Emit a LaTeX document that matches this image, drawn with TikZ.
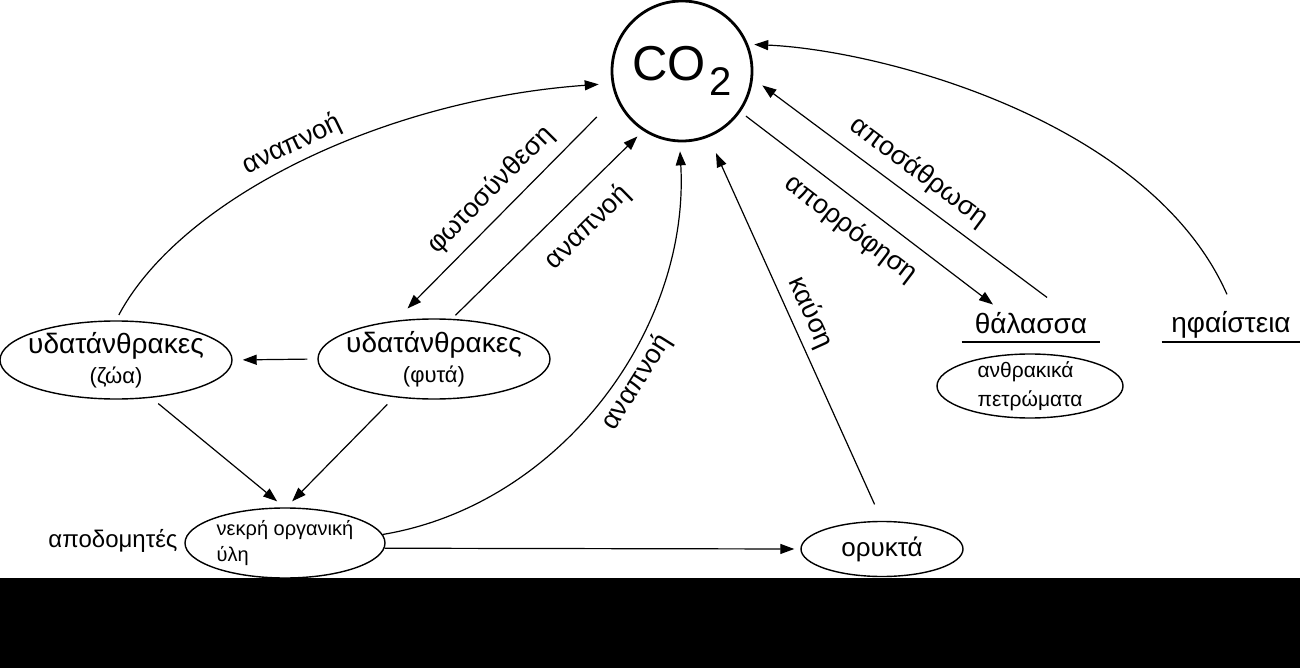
\documentclass[tikz,border=0pt]{standalone}
\usepackage{fontspec}
\setmainfont{Liberation Sans}
\usetikzlibrary{arrows.meta,shapes.geometric}

\tikzset{
  pool/.style={draw, ellipse, line width=0.7pt, inner sep=-6pt},
  flow/.style={-{Triangle[length=7pt,width=5pt]}, line width=0.6pt},
  tag/.style={font=\fontsize{13.5}{13.5}\selectfont, sloped},
  store/.style={font=\fontsize{14}{14}\selectfont, minimum width=69pt, inner xsep=0pt, inner ysep=3.5pt, anchor=base},
}

\begin{document}
\begin{tikzpicture}[x=0.5pt, y=-0.5pt]
    \useasboundingbox (0,0) rectangle (1300,668);
    \fill[black] (0,578) rectangle (1300,668);

    % Carbon dioxide
    \node[draw, circle, line width=1.4pt, minimum size=70pt, inner sep=0pt] (co2) at (682,71)
        {\fontsize{24.5}{24.5}\selectfont CO\kern2pt\raisebox{-7.5pt}{\fontsize{20}{20}\selectfont 2}};

    % Carbohydrates of animals and plants
    \node[pool, minimum width=116pt, minimum height=39pt, align=center, font=\fontsize{14}{15}\selectfont] (animals) at (116,360)
        {υδατάνθρακες\\{\fontsize{11}{15}\selectfont (ζώα)}};
    \node[pool, minimum width=116pt, minimum height=40pt, align=center, font=\fontsize{14}{15}\selectfont] (plants) at (434,359)
        {υδατάνθρακες\\{\fontsize{11}{15}\selectfont (φυτά)}};

    % Dead matter and fossils
    \node[pool, minimum width=100pt, minimum height=35pt, align=left, font=\fontsize{10}{13}\selectfont] (dead) at (285,543)
        {νεκρή οργανική\\ύλη};
    \node[font=\fontsize{12}{12}\selectfont] (decomp) at (113,541) {αποδομητές};
    \node[pool, minimum width=81pt, minimum height=27.5pt, font=\fontsize{13}{13}\selectfont] (minerals) at (882,549) {ορυκτά};

    % Sea, rocks and volcanoes
    \node[store] (sea) at (1031,333) {θάλασσα};
    \draw[line width=0.7pt] ([yshift=-4.5pt]sea.base west) -- ([yshift=-4.5pt]sea.base east);
    \node[pool, minimum width=93pt, minimum height=32pt, align=left, font=\fontsize{10.5}{14.5}\selectfont] (rocks) at (1030,386)
        {ανθρακικά\\πετρώματα};
    \node[store] (volcano) at (1231,332) {ηφαίστεια};
    \draw[line width=0.7pt] ([yshift=-5pt]volcano.base west) -- ([yshift=-5pt]volcano.base east);

    % Respiration and photosynthesis
    \draw[flow, shorten <=3pt, shorten >=6.5pt] (animals.north) .. controls (180,200) and (380,100) .. (co2.190)
        node[tag, above, pos=0.5] {αναπνοή};
    \draw[flow, shorten <=13.5pt, shorten >=8.5pt] (co2.202) -- (plants.135)
        node[tag, above=2pt, pos=0.49] {φωτοσύνθεση};
    \draw[flow, shorten <=2.5pt, shorten >=4pt] (plants.66) -- (co2.237)
        node[tag, below=5pt, pos=0.6] {αναπνοή};
    \draw[flow, shorten <=5pt, shorten >=5pt] (plants.west) -- (animals.east);
    \draw[flow, shorten <=4.5pt, shorten >=4.7pt] (animals.-47) -- (dead.91);
    \draw[flow, shorten <=5pt, shorten >=4.2pt] (plants.224) -- (dead.88);
    \draw[flow, shorten >=4.5pt] (dead.5) .. controls (560,505) and (690,330) .. (co2.268)
        node[tag, below, pos=0.56] {αναπνοή};

    % Fossils and combustion
    \draw[flow, shorten >=3pt] (dead.-3) -- (minerals.west);
    \draw[flow, shorten <=9pt, shorten >=8.75pt] (minerals.north) -- (co2.292)
        node[tag, above, pos=0.52] {καύση};

    % Ocean exchange
    \draw[flow, shorten <=3.4pt] (co2.325) -- ([xshift=-19pt]sea.north)
        node[tag, below=3pt, pos=0.5] {απορρόφηση};
    \draw[flow, shorten <=5.9pt, shorten >=5.8pt] ([xshift=12.75pt]sea.north) -- (co2.354)
        node[tag, above=2pt, pos=0.5] {αποσάθρωση};

    % Volcanoes
    \draw[flow, shorten <=5pt, shorten >=3pt] (volcano.north) .. controls (1150,120) and (880,50) .. (co2.22);
\end{tikzpicture}
\end{document}
